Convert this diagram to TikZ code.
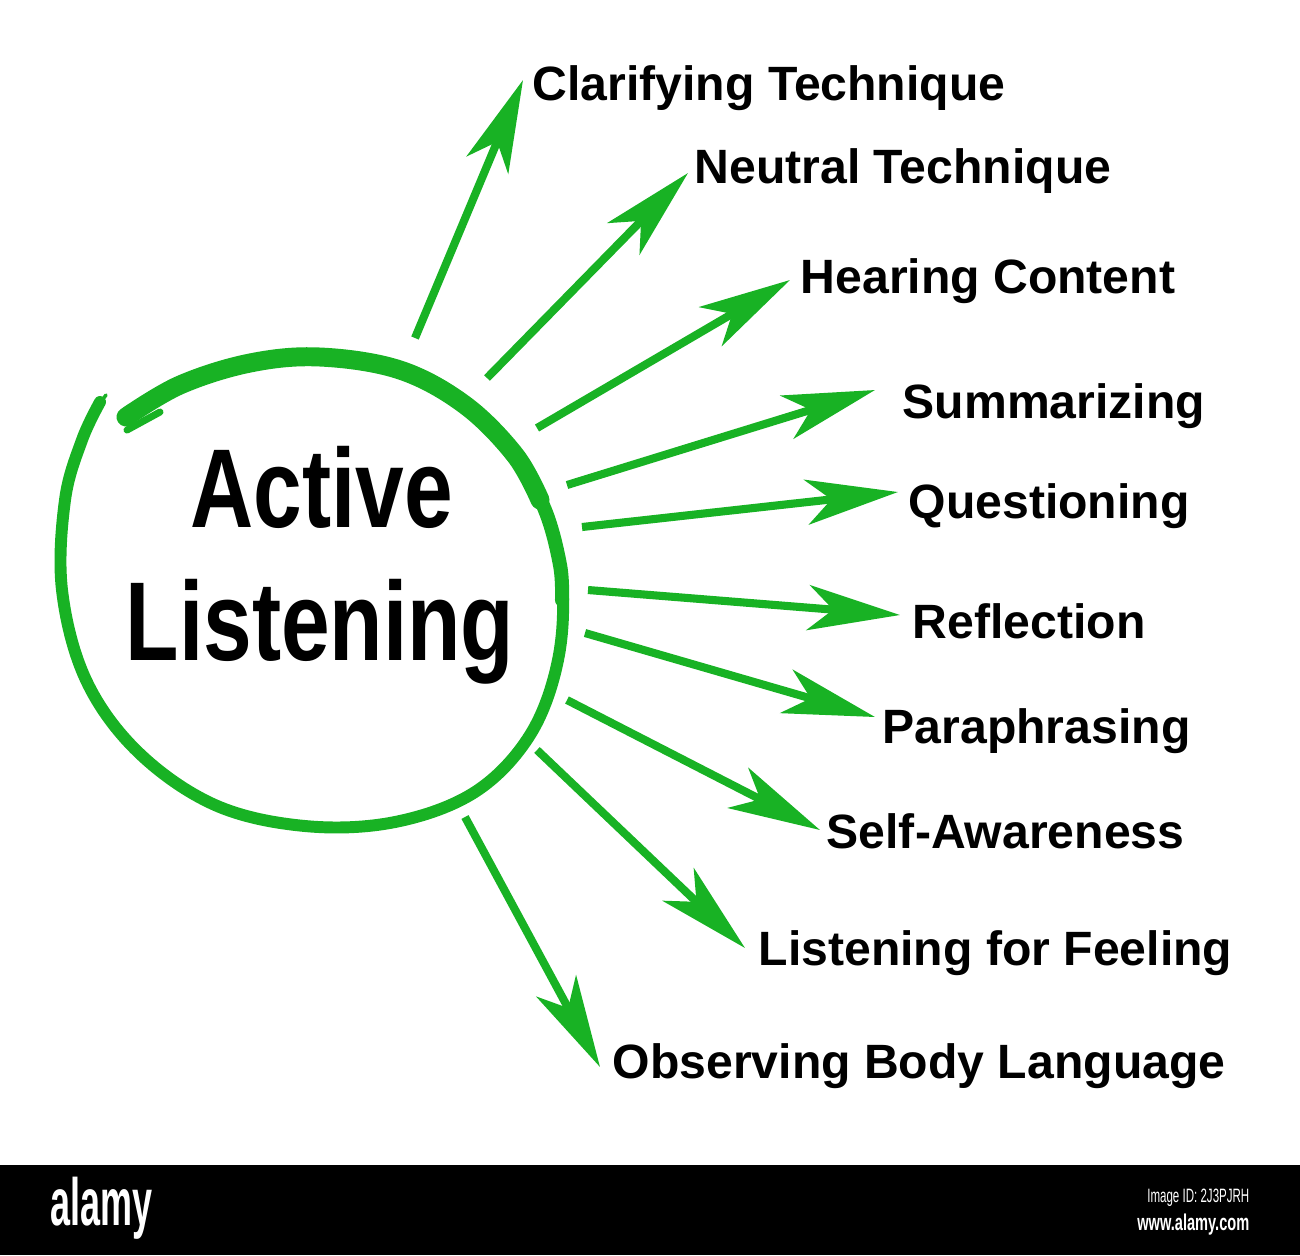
\documentclass[tikz,border=0pt]{standalone}
\usepackage{fontspec}
\setmainfont{Liberation Sans}
\usetikzlibrary{arrows.meta}
\definecolor{ringgreen}{RGB}{24,178,36}

\begin{document}
\begin{tikzpicture}[
    arr/.style={draw=ringgreen, line width=2.3pt, -{Stealth[length=0.92cm, width=0.45cm, inset=0.25cm]}},
    item/.style={anchor=base west, inner sep=0pt, font=\fontsize{13.7}{16}\selectfont\bfseries},
    big/.style={anchor=base, inner sep=0pt, font=\fontsize{31.9}{38}\selectfont\bfseries},
    ring/.style={draw=ringgreen, line cap=round, line join=round},
    mark text/.style={inner sep=0pt, text=white}
  ]
    \useasboundingbox (0,0) rectangle (13,-12.55);

    % 中心の円
    \draw[ring, line width=3.4pt] plot[smooth, tension=0.6] coordinates {(5.15,-4.55) (5.45,-5.10) (5.62,-5.80) (5.58,-6.60) (5.30,-7.35) (4.75,-7.92) (3.95,-8.22) (3.05,-8.26) (2.15,-8.05) (1.38,-7.52) (0.86,-6.80) (0.62,-5.90) (0.65,-5.00) (0.82,-4.40) (1.00,-4.02)};
    \draw[ring, line width=4pt] plot[smooth, tension=0.6] coordinates {(4.65,-4.05) (5.15,-4.55) (5.45,-5.10) (5.60,-5.65) (5.62,-6.00)};
    \draw[ring, line width=5.4pt] plot[smooth, tension=0.6] coordinates {(1.26,-4.17) (1.80,-3.85) (2.50,-3.63) (3.20,-3.57) (4.00,-3.70) (4.65,-4.05) (5.15,-4.55) (5.40,-5.00)};
    \draw[ring, line width=1pt] (0.98,-4.06) -- (1.06,-3.95);
    \draw[ring, line width=2pt] (1.27,-4.30) -- (1.60,-4.12);

    \node[big] (act) at (3.22,-5.27) {\scalebox{0.78}[1]{Active}};
    \node[big] (lis) at (3.20,-6.60) {\scalebox{0.78}[1]{Listening}};

    % 項目
    \node[item] (t1) at (5.32,-1.00) {Clarifying Technique};
    \node[item] (t2) at (6.94,-1.83) {Neutral Technique};
    \node[item] (t3) at (8.00,-2.93) {Hearing Content};
    \node[item] (t4) at (9.02,-4.18) {Summarizing};
    \node[item] (t5) at (9.08,-5.18) {Questioning};
    \node[item] (t6) at (9.12,-6.38) {Reflection};
    \node[item] (t7) at (8.82,-7.43) {Paraphrasing};
    \node[item] (t8) at (8.26,-8.48) {Self-Awareness};
    \node[item] (t9) at (7.58,-9.65) {Listening for Feeling};
    \node[item] (t10) at (6.12,-10.78) {Observing Body Language};

    % 矢印の始点
    \coordinate (s1) at (4.15,-3.38);
    \coordinate (s2) at (4.87,-3.78);
    \coordinate (s3) at (5.37,-4.28);
    \coordinate (s4) at (5.67,-4.85);
    \coordinate (s5) at (5.82,-5.27);
    \coordinate (s6) at (5.88,-5.90);
    \coordinate (s7) at (5.85,-6.33);
    \coordinate (s8) at (5.67,-7.00);
    \coordinate (s9) at (5.37,-7.50);
    \coordinate (s10) at (4.65,-8.17);

    % 矢印を引く
    \draw[arr] (s1) -- ([shift={(-0.09,0.20)}]t1.base west);
    \draw[arr] (s2) -- ([shift={(-0.06,0.10)}]t2.base west);
    \draw[arr] (s3) -- ([shift={(-0.10,0.13)}]t3.base west);
    \draw[arr] (s4) -- ([shift={(-0.27,0.28)}]t4.base west);
    \draw[arr] (s5) -- ([shift={(-0.10,0.26)}]t5.base west);
    \draw[arr] (s6) -- ([shift={(-0.12,0.23)}]t6.base west);
    \draw[arr] (s7) -- ([shift={(-0.07,0.26)}]t7.base west);
    \draw[arr] (s8) -- ([shift={(-0.06,0.18)}]t8.base west);
    \draw[arr] (s9) -- ([shift={(-0.13,0.17)}]t9.base west);
    \draw[arr] (s10) -- ([shift={(-0.12,0.11)}]t10.base west);

    % 下の帯
    \fill[black] (0,-11.65) rectangle (13,-12.55);
    \node[mark text, anchor=base west, font=\fontsize{19}{22}\selectfont\bfseries] (logo) at (0.50,-12.25) {\resizebox{1.02cm}{\height}{alamy}};
    \node[mark text, anchor=base east, font=\fontsize{5.5}{7}\selectfont] (imgid) at (12.50,-12.02) {\resizebox{1.02cm}{\height}{Image ID: 2J3PJRH}};
    \node[mark text, anchor=base east, font=\fontsize{6.5}{8}\selectfont\bfseries] (www) at (12.50,-12.30) {\resizebox{1.12cm}{\height}{www.alamy.com}};
\end{tikzpicture}
\end{document}
